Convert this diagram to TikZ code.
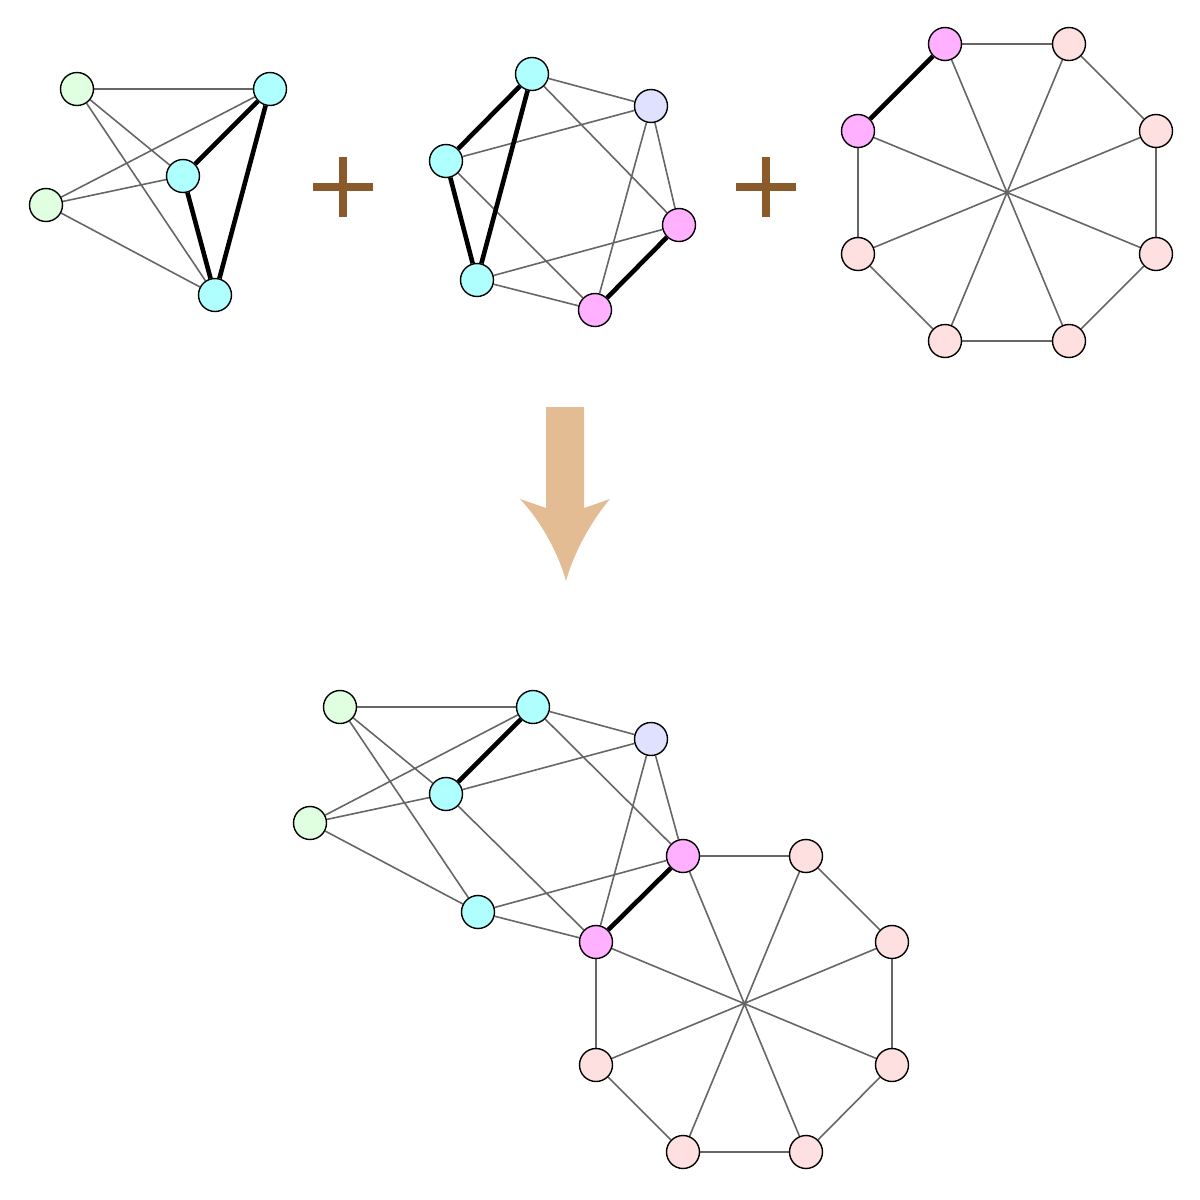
\documentclass[tikz,border=0pt]{standalone}
\usetikzlibrary{backgrounds}
\definecolor{cgreen}{HTML}{E0FFE0}
\definecolor{ccyan}{HTML}{B0FFFF}
\definecolor{clav}{HTML}{E0E0FF}
\definecolor{cmag}{HTML}{FFB0FF}
\definecolor{cpink}{HTML}{FFE0E0}
\definecolor{cedge}{HTML}{666666}
\definecolor{cplus}{HTML}{8B5A2B}
\definecolor{carrow}{HTML}{E3BC94}
\begin{document}
\begin{tikzpicture}[x=1pt,y=-1pt,
  vtx/.style={circle,draw=black,line width=1.4pt,minimum size=33pt,inner sep=0pt},
  gv/.style={vtx,fill=cgreen},
  cv/.style={vtx,fill=ccyan},
  lv/.style={vtx,fill=clav},
  mv/.style={vtx,fill=cmag},
  pv/.style={vtx,fill=cpink},
  thin/.style={draw=cedge,line width=1.6pt},
  heavy/.style={draw=black,line width=4.6pt},
  plusbar/.style={draw=cplus,line width=8pt}]
\useasboundingbox (0,0) rectangle (1200,1200);

% ---------- graph 1 ----------
\node[gv] (a1) at (77,89) {};
\node[gv] (a2) at (46,205) {};
\node[cv] (b1) at (270,89) {};
\node[cv] (b2) at (183,176) {};
\node[cv] (b3) at (215,295) {};
% ---------- graph 2 ----------
\node[cv] (c1) at (532,74) {};
\node[cv] (c2) at (446,161) {};
\node[cv] (c3) at (477,280) {};
\node[lv] (d) at (651,106) {};
\node[mv] (e1) at (679,225) {};
\node[mv] (e2) at (595,310) {};
% ---------- graph 3 ----------
\node[mv] (f1) at (945,44) {};
\node[pv] (f2) at (1069,44) {};
\node[pv] (f3) at (1156,131) {};
\node[pv] (f4) at (1156,254) {};
\node[pv] (f5) at (1069,341) {};
\node[pv] (f6) at (945,341) {};
\node[pv] (f7) at (858,254) {};
\node[mv] (f8) at (858,131) {};
% ---------- bottom graph ----------
\node[gv] (g1) at (340,707) {};
\node[gv] (g2) at (310,823) {};
\node[cv] (h1) at (533,707) {};
\node[cv] (h2) at (446,794) {};
\node[cv] (h3) at (478,912) {};
\node[lv] (i) at (651,739) {};
\node[mv] (j1) at (683,856) {};
\node[mv] (j2) at (596,942) {};
\node[pv] (k2) at (806,856) {};
\node[pv] (k3) at (892,942) {};
\node[pv] (k4) at (892,1065) {};
\node[pv] (k5) at (806,1152) {};
\node[pv] (k6) at (683,1152) {};
\node[pv] (k7) at (596,1065) {};

\begin{pgfonlayer}{background}
% graph 1
\draw[thin] (a1)--(b1) (a1)--(b2) (a1)--(b3) (a2)--(b1) (a2)--(b2) (a2)--(b3);
\draw[heavy] (b1)--(b2) (b2)--(b3) (b1)--(b3);
% graph 2
\draw[thin] (c1)--(d) (c1)--(e1) (c2)--(d) (c2)--(e2) (c3)--(e1) (c3)--(e2) (d)--(e1) (d)--(e2);
\draw[heavy] (c1)--(c2) (c2)--(c3) (c1)--(c3) (e1)--(e2);
% graph 3
\draw[thin] (f1)--(f2) (f2)--(f3) (f3)--(f4) (f4)--(f5) (f5)--(f6) (f6)--(f7) (f7)--(f8)
  (f1)--(f5) (f2)--(f6) (f3)--(f7) (f4)--(f8);
\draw[heavy] (f8)--(f1);
% bottom
\draw[thin] (g1)--(h1) (g1)--(h2) (g1)--(h3) (g2)--(h1) (g2)--(h2) (g2)--(h3)
  (h1)--(i) (h1)--(j1) (h2)--(i) (h2)--(j2) (h3)--(j1) (h3)--(j2) (i)--(j1) (i)--(j2)
  (j1)--(k2) (k2)--(k3) (k3)--(k4) (k4)--(k5) (k5)--(k6) (k6)--(k7) (k7)--(j2)
  (j1)--(k5) (k2)--(k6) (k3)--(k7) (k4)--(j2);
\draw[heavy] (h1)--(h2) (j1)--(j2);
\end{pgfonlayer}

% plus signs
\draw[plusbar] (313,187)--(373,187) (343,157)--(343,217);
\draw[plusbar] (736,187)--(796,187) (766,157)--(766,217);

% big arrow
\fill[carrow] (546,407) -- (584,407) -- (584,508) -- (610,499)
  .. controls (592,520) and (574,552) .. (566,581)
  .. controls (558,552) and (540,520) .. (520,499) -- (546,508) -- cycle;
\end{tikzpicture}
\end{document}
